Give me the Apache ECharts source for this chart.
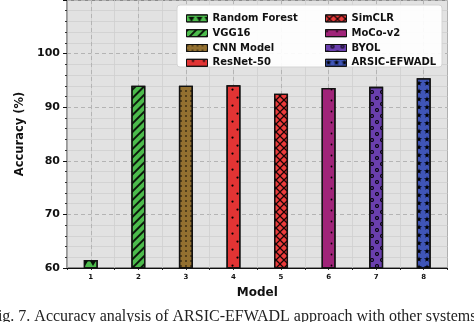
<!DOCTYPE html>
<html>
<head>
<meta charset="utf-8">
<script src="https://cdn.jsdelivr.net/npm/echarts@6/dist/echarts.min.js"></script>
<style>
  html, body { margin: 0; padding: 0; background: #ffffff; }
  #chart { width: 474px; height: 322px; }
</style>
</head>
<body>
<div id="chart"></div>
<script>
// Model index on the x axis and the model each bar stands for
const categories = ['1', '2', '3', '4', '5', '6', '7', '8'];
const modelNames = ['Random Forest', 'VGG16', 'CNN Model', 'ResNet-50',
                    'SimCLR', 'MoCo-v2', 'BYOL', 'ARSIC-EFWADL'];
// Accuracy (%) of each model
const accuracy = [61.5, 94.0, 94.0, 94.1, 92.5, 93.6, 93.8, 95.4];
// Y axis range and major step
const yMin = 60;
const yMax = 110;
const yStep = 10;
const yTickLabels = ['60', '70', '80', '90', '100'];
// Quarter-category minor grid on a helper axis
const minorCategories = Array.from({ length: categories.length * 4 }, (_, i) => String(i));

const barColors = ['#4cbb4c', '#4cbb4c', '#937030', '#e23434',
                   '#ec3a3a', '#a02479', '#6a3fae', '#3f55b8'];

const STAR = 'path://M50,0 L61,35 L98,35 L68,57 L79,91 L50,70 L21,91 L32,57 L2,35 L39,35 Z';
const CROSS = 'path://M0,0 L11,0 L100,89 L100,100 L89,100 L0,11 Z M89,0 L100,0 L100,11 L11,100 L0,100 L0,89 Z';
const RING = 'path://M50,0 A50,50 0 1 1 49.9,0 Z M50,28 A22,22 0 1 0 50.1,28 Z';

const decals = [
  // Random Forest: large dark marks
  { symbol: 'triangle', symbolSize: 1, color: 'rgba(0,0,0,0.9)', rotation: Math.PI,
    dashArrayX: [[6, 2]], dashArrayY: [5, 2] },
  // VGG16: forward hatch
  { symbol: 'rect', symbolSize: 1, color: 'rgba(0,0,0,0.85)', rotation: -Math.PI / 4,
    dashArrayX: [1, 0], dashArrayY: [1.2, 3.6] },
  // CNN Model: dense dots
  { symbol: 'circle', symbolSize: 0.8, color: '#000',
    dashArrayX: [2, 2.6], dashArrayY: [2, 2.6] },
  // ResNet-50: sparse staggered dots
  { symbol: 'circle', symbolSize: 0.75, color: '#000',
    dashArrayX: [[2.8, 7.2], [0, 5, 2.8, 2.2]], dashArrayY: [2.8, 4.2] },
  // SimCLR: diagonal cross hatch
  { symbol: CROSS, symbolSize: 1, color: 'rgba(0,0,0,0.9)',
    dashArrayX: [7.5, 0], dashArrayY: [7.5, 0] },
  // MoCo-v2: small scattered dots
  { symbol: 'circle', symbolSize: 0.6, color: '#000',
    dashArrayX: [[2.4, 7]], dashArrayY: [2.4, 7.5] },
  // BYOL: small rings
  { symbol: RING, symbolSize: 1, color: '#000',
    dashArrayX: [[3.8, 5.5], [0, 4.6, 3.8, 0.9]], dashArrayY: [3.8, 2] },
  // ARSIC-EFWADL: stars
  { symbol: STAR, symbolSize: 1, color: '#000',
    dashArrayX: [[5.5, 2]], dashArrayY: [5.5, 1.5] }
];

const series = modelNames.map((name, i) => ({
  name: name,
  type: 'bar',
  xAxisIndex: 0,
  yAxisIndex: 0,
  barWidth: 14,
  barGap: '-100%',
  data: categories.map((c, j) => (j === i ? accuracy[i] : '-')),
  itemStyle: {
    color: barColors[i],
    borderColor: '#111',
    borderWidth: 1.3,
    decal: decals[i]
  },
  z: 3
}));

const legendCommon = {
  orient: 'vertical',
  top: 6,
  itemWidth: 21,
  itemHeight: 7,
  itemGap: 0,
  icon: 'rect',
  z: 10,
  textStyle: {
    fontFamily: 'DejaVu Sans',
    fontWeight: 'bold',
    fontSize: 10,
    color: '#111',
    lineHeight: 14.8
  },
  itemStyle: { borderColor: '#111', borderWidth: 1 }
};

const chart = echarts.init(document.getElementById('chart'), null, { renderer: 'canvas' });

chart.setOption({
  animation: false,
  backgroundColor: '#ffffff',
  grid: {
    left: 67,
    right: 26.5,
    top: -1,
    bottom: 54,
    show: true,
    backgroundColor: '#e2e2e2',
    borderColor: '#333',
    borderWidth: 1
  },
  legend: [
    Object.assign({}, legendCommon, { left: 181, data: modelNames.slice(0, 4) }),
    Object.assign({}, legendCommon, { left: 320, data: modelNames.slice(4) })
  ],
  xAxis: [
    {
      type: 'category',
      data: categories,
      name: 'Model',
      nameLocation: 'middle',
      nameGap: 19,
      nameTextStyle: { fontFamily: 'DejaVu Sans', fontWeight: 'bold', fontSize: 12, color: '#111' },
      axisLine: { lineStyle: { color: '#111', width: 1 } },
      axisTick: { alignWithLabel: true, length: 4, lineStyle: { color: '#111' } },
      axisLabel: { margin: 6, fontFamily: 'DejaVu Sans', fontWeight: 'bold', fontSize: 7, color: '#111' },
      splitLine: { show: true, alignWithLabel: true, lineStyle: { color: '#b4b4b4', type: [4, 3], width: 1 } },
      z: 2
    },
    {
      type: 'category',
      data: minorCategories,
      position: 'bottom',
      axisLine: { show: false },
      axisLabel: { show: false },
      axisTick: { show: true, length: 2, lineStyle: { color: '#333' } },
      splitLine: { show: true, lineStyle: { color: '#cfcfcf', width: 0.8 } },
      z: 1
    }
  ],
  yAxis: {
    type: 'value',
    min: yMin,
    max: yMax,
    interval: yStep,
    name: 'Accuracy (%)',
    nameLocation: 'middle',
    nameRotate: 90,
    nameGap: 33,
    nameTextStyle: { fontFamily: 'DejaVu Sans', fontWeight: 'bold', fontSize: 11.5, color: '#111' },
    axisLine: { show: true, lineStyle: { color: '#111', width: 1 } },
    axisTick: { show: true, length: 4, lineStyle: { color: '#111' } },
    minorTick: { show: true, splitNumber: 5, length: 2, lineStyle: { color: '#333' } },
    axisLabel: {
      margin: 7,
      fontFamily: 'DejaVu Sans',
      fontWeight: 'bold',
      fontSize: 11,
      color: '#111',
      formatter: v => (yTickLabels.indexOf(String(v)) >= 0 ? String(v) : '')
    },
    splitLine: { show: true, lineStyle: { color: '#b4b4b4', type: [4, 3], width: 1 } },
    minorSplitLine: { show: true, lineStyle: { color: '#cfcfcf', width: 0.8 } }
  },
  graphic: [
    {
      type: 'rect',
      z: 5,
      shape: { x: 177, y: 5, width: 265, height: 62, r: 3 },
      style: { fill: 'rgba(255,255,255,0.92)', stroke: '#d4d4d4', lineWidth: 1 }
    },
    {
      type: 'text',
      x: -11,
      y: 325,
      z: 5,
      style: {
        text: 'Fig. 7. Accuracy analysis of ARSIC-EFWADL approach with other systems',
        font: '16px "Liberation Serif"',
        fill: '#222',
        verticalAlign: 'bottom'
      }
    }
  ],
  series: series
});
</script>
</body>
</html>
